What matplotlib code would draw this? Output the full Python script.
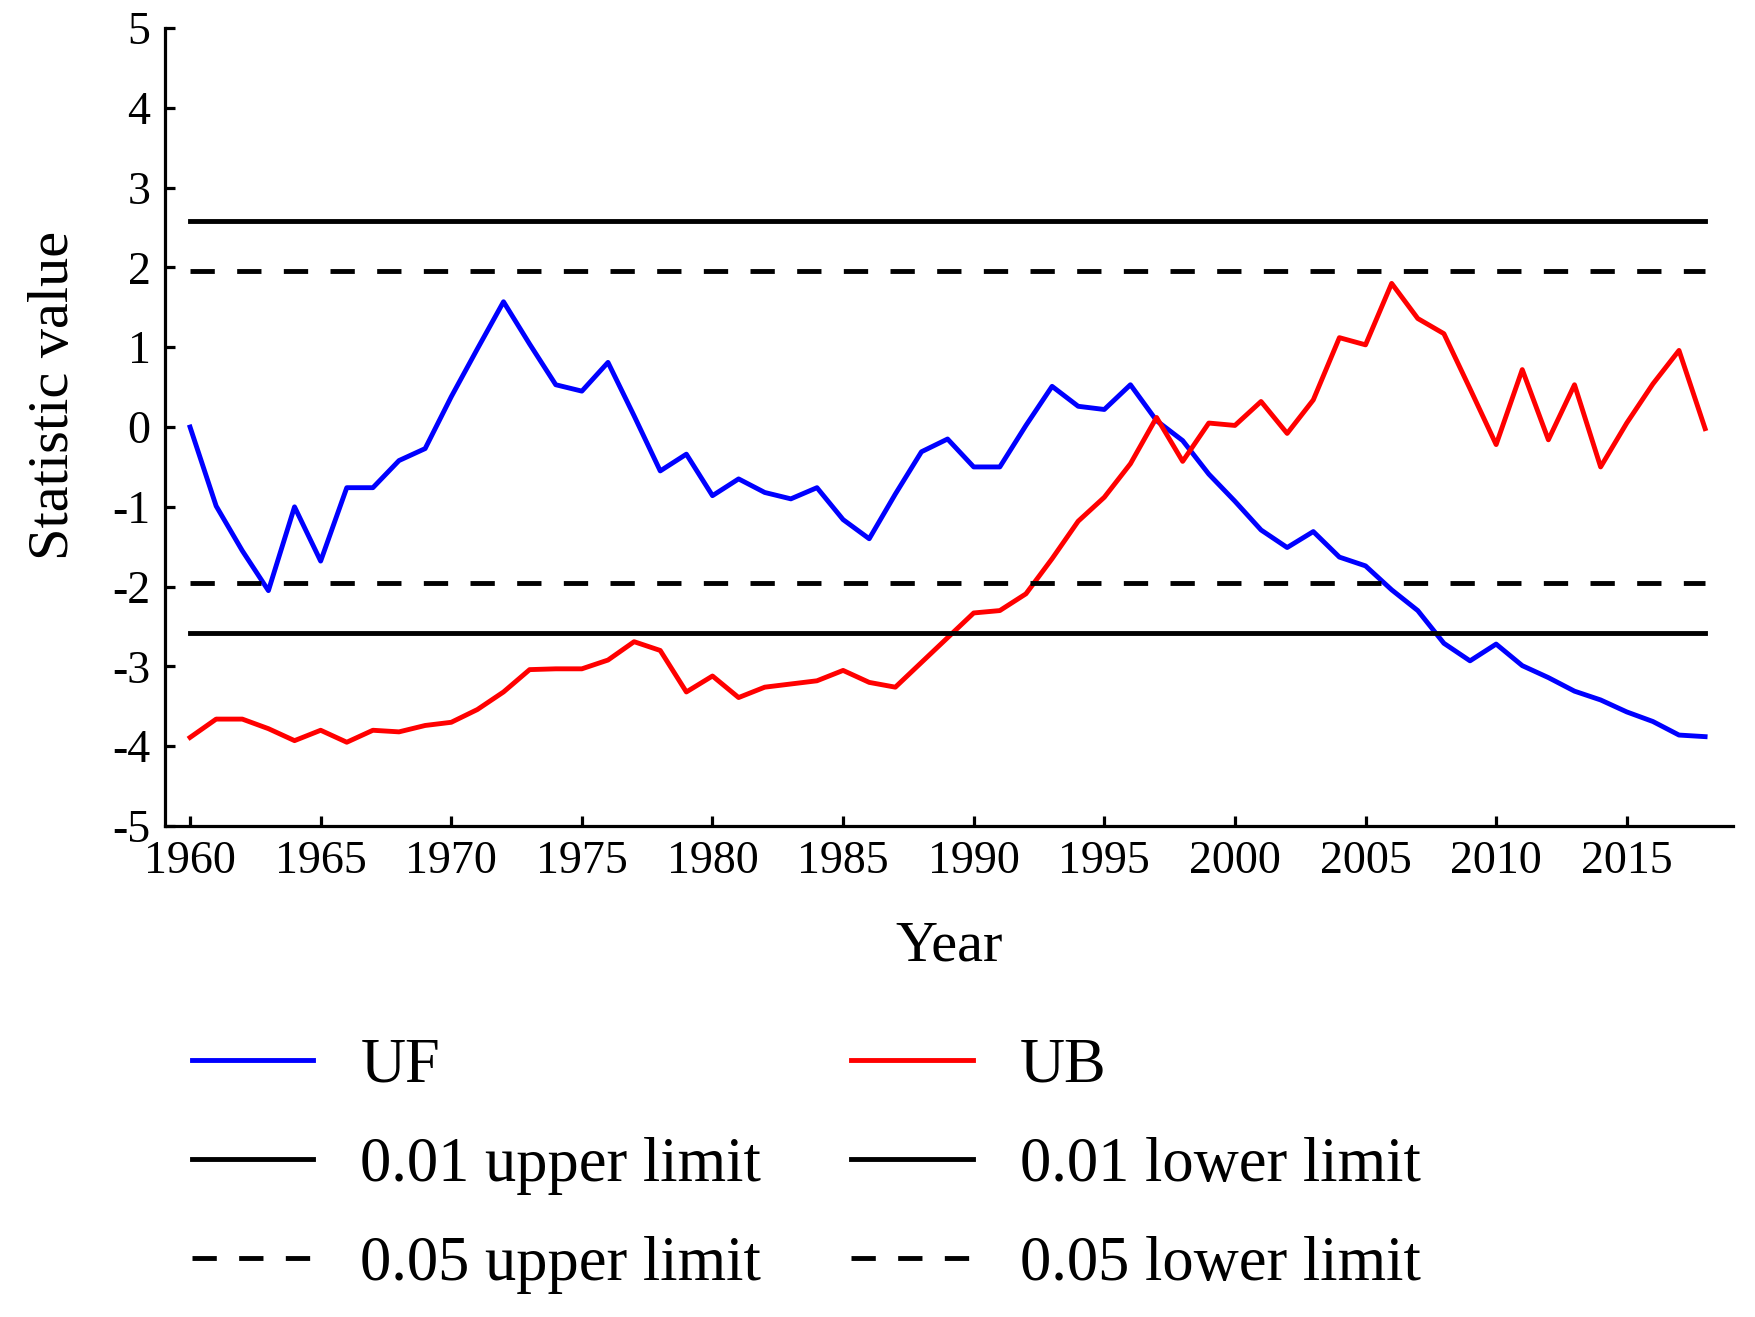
import numpy as np
from matplotlib import pyplot as plt

plt.rcParams['font.family'] = ['Liberation Serif', 'DejaVu Serif']
plt.rcParams['axes.unicode_minus'] = False

# Mann-Kendall test statistics
years = np.arange(1960, 2019)
uf = [0.0, -0.99, -1.55, -2.05, -1.0, -1.68, -0.76, -0.76, -0.42, -0.27,
      0.38, 0.98, 1.57, 1.04, 0.53, 0.45, 0.81, 0.14, -0.55, -0.34,
      -0.86, -0.65, -0.82, -0.90, -0.76, -1.16, -1.40, -0.84, -0.31, -0.15,
      -0.50, -0.50, 0.02, 0.51, 0.26, 0.22, 0.53, 0.08, -0.17, -0.59,
      -0.93, -1.29, -1.51, -1.31, -1.63, -1.74, -2.04, -2.30, -2.71, -2.93,
      -2.72, -2.99, -3.14, -3.31, -3.42, -3.57, -3.69, -3.86, -3.88]
ub = [-3.89, -3.66, -3.66, -3.78, -3.93, -3.80, -3.95, -3.80, -3.82, -3.74,
      -3.70, -3.54, -3.32, -3.04, -3.03, -3.03, -2.92, -2.69, -2.80, -3.32,
      -3.12, -3.39, -3.26, -3.22, -3.18, -3.05, -3.20, -3.26, -2.95, -2.64,
      -2.33, -2.30, -2.09, -1.65, -1.18, -0.88, -0.46, 0.12, -0.43, 0.05,
      0.02, 0.32, -0.08, 0.34, 1.12, 1.03, 1.80, 1.36, 1.17, 0.48,
      -0.22, 0.72, -0.16, 0.53, -0.50, 0.05, 0.54, 0.96, -0.02]
lim01 = 2.58
lim05 = 1.96

fig = plt.figure(figsize=(17.55, 13.17), dpi=100)
ax = fig.add_axes([0.094, 0.3728, 0.8935, 0.6059])

lw = 3.5
dash = (5.0, 4.6)
h_uf, = ax.plot(years, uf, color='#0000ff', lw=lw)
h_ub, = ax.plot(years, ub, color='#ff0000', lw=lw)
n = len(years)
h_u01, = ax.plot(years, [lim01] * n, color='k', lw=lw)
h_l01, = ax.plot(years, [-lim01] * n, color='k', lw=lw)
h_u05, = ax.plot(years, [lim05] * n, color='k', lw=lw, dashes=dash)
h_l05, = ax.plot(years, [-lim05] * n, color='k', lw=lw, dashes=dash)

ax.set_xlim(1959.04, 2019.07)
ax.set_ylim(-5, 5)
ax.set_xticks(np.arange(1960, 2016, 5))
ax.set_yticks(np.arange(-5, 6, 1))
for s in ['top', 'right']:
    ax.spines[s].set_visible(False)
for s in ['left', 'bottom']:
    ax.spines[s].set_linewidth(2.3)
ax.tick_params(direction='in', length=7.2, width=2.3, labelsize=33, pad=10.5)

ax.set_xlabel('Year', fontsize=42)
ax.xaxis.set_label_coords(0.5, -0.1178)
ax.set_ylabel('Statistic value', fontsize=42)
ax.yaxis.set_label_coords(-0.054, 0.539)

fig.legend([h_uf, h_u01, h_u05, h_ub, h_l01, h_l05],
           ['UF', '0.01 upper limit', '0.05 upper limit',
            'UB', '0.01 lower limit', '0.05 lower limit'],
           ncol=2, loc='center left', bbox_to_anchor=(0.1092, 0.1147),
           bbox_transform=fig.transFigure, frameon=False, fontsize=45,
           borderpad=0, borderaxespad=0, handlelength=1.94,
           handletextpad=0.76, columnspacing=1.44, labelspacing=0.66)

plt.savefig('out.png', dpi=100)
